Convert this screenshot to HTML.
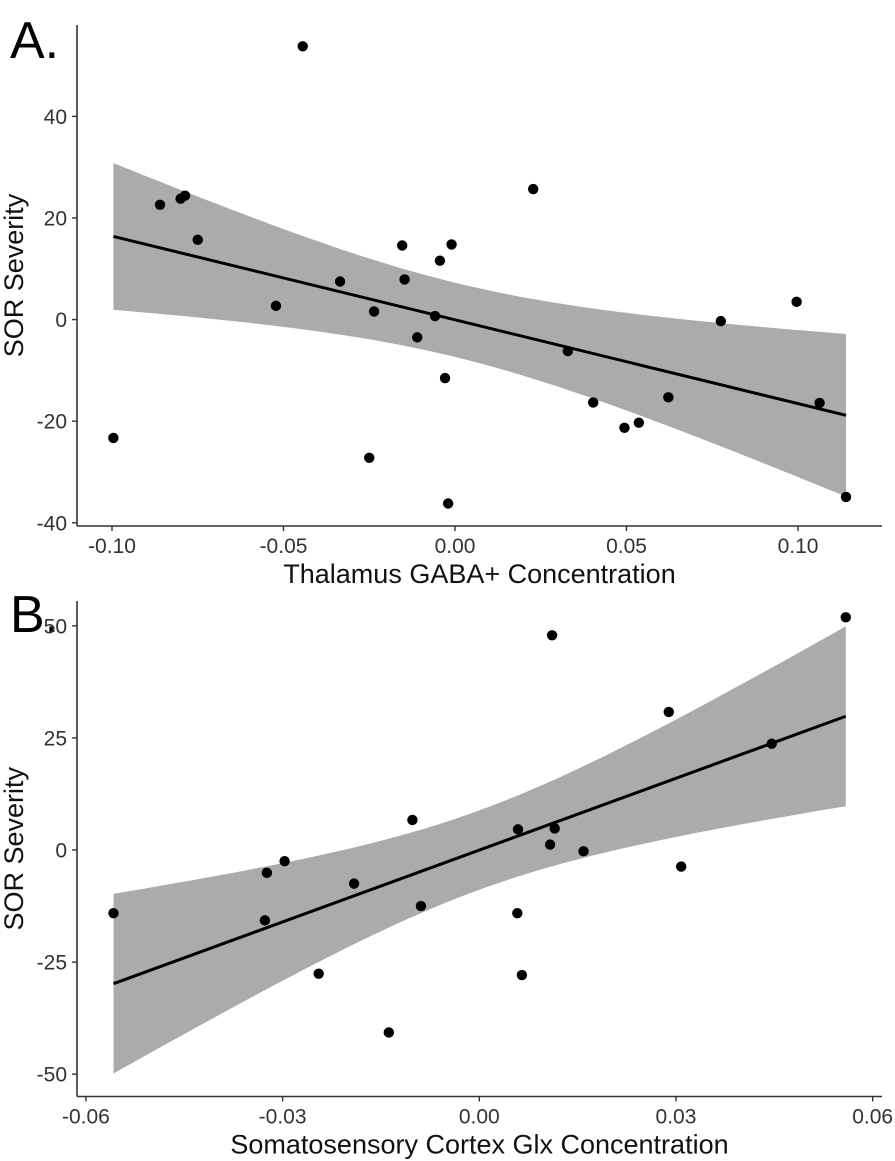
<!DOCTYPE html>
<html><head><meta charset="utf-8">
<style>
html,body{margin:0;padding:0;background:#fff;}
svg{display:block;font-family:"Liberation Sans",Arial,sans-serif;}
</style></head>
<body>
<svg id="chart" width="895" height="1161" viewBox="0 0 895 1161">
<text x="10" y="58" font-size="52" fill="#000">A.</text>
<text x="10" y="632" font-size="52" fill="#000">B.</text>
<g id="pa"></g>
<g id="pb"></g>
</svg>
<script>
// Panel A data
const aX = [-0.0444,-0.086,-0.080,-0.0787,-0.075,-0.0522,-0.0335,-0.0236,-0.0154,-0.0147,-0.011,-0.0058,-0.0044,-0.0029,-0.0996,-0.025,-0.002,-0.001,0.0228,0.0329,0.0403,0.0494,0.0536,0.0622,0.0775,0.0996,0.1063,0.114];
const aY = [53.8,22.6,23.8,24.4,15.7,2.7,7.5,1.6,14.6,7.9,-3.5,0.7,11.6,-11.5,-23.3,-27.2,-36.2,14.8,25.7,-6.2,-16.3,-21.3,-20.3,-15.3,-0.3,3.5,-16.4,-34.9];
const aXTicks = [-0.10,-0.05,0.00,0.05,0.10];
const aXTickLabels = ["-0.10","-0.05","0.00","0.05","0.10"];
const aYTicks = [-40,-20,0,20,40];
const aYTickLabels = ["-40","-20","0","20","40"];
// Panel B data
const bX = [-0.0558,-0.0324,-0.0297,-0.0327,-0.0191,-0.0102,-0.0089,-0.0245,-0.0138,0.0111,0.0559,0.0289,0.0446,0.0059,0.0115,0.0108,0.0159,0.0308,0.0058,0.0065];
const bY = [-14.1,-5.1,-2.5,-15.7,-7.5,6.7,-12.5,-27.6,-40.7,47.9,51.9,30.8,23.7,4.6,4.8,1.2,-0.3,-3.7,-14.1,-27.9];
const bXTicks = [-0.06,-0.03,0.00,0.03,0.06];
const bXTickLabels = ["-0.06","-0.03","0.00","0.03","0.06"];
const bYTicks = [-50,-25,0,25,50];
const bYTickLabels = ["-50","-25","0","25","50"];

const NS="http://www.w3.org/2000/svg";
function mk(tag,attrs,parent){const e=document.createElementNS(NS,tag);for(const k in attrs)e.setAttribute(k,attrs[k]);parent.appendChild(e);return e;}
function tcrit(df){const t={18:2.101,19:2.093,20:2.086,21:2.080,22:2.074,23:2.069,24:2.064,25:2.060,26:2.056,27:2.052,28:2.048};return t[df]||2.05;}

function panel(g, xs, ys, xTicks, xLabs, yTicks, yLabs, sx, sy, box, xTitle){
  const n=xs.length; const mx=xs.reduce((a,b)=>a+b)/n, my=ys.reduce((a,b)=>a+b)/n;
  let sxx=0,sxy=0; for(let i=0;i<n;i++){sxx+=(xs[i]-mx)**2;sxy+=(xs[i]-mx)*(ys[i]-my);}
  const b=sxy/sxx, a=my-b*mx; let sse=0; for(let i=0;i<n;i++)sse+=(ys[i]-a-b*xs[i])**2;
  const s=Math.sqrt(sse/(n-2)), t=tcrit(n-2);
  const xmin=Math.min(...xs), xmax=Math.max(...xs);
  const up=[],lo=[];
  for(let k=0;k<=80;k++){const x=xmin+(xmax-xmin)*k/80;const yh=a+b*x;const se=s*Math.sqrt(1/n+(x-mx)**2/sxx);up.push(sx(x).toFixed(1)+","+sy(yh+t*se).toFixed(1));lo.unshift(sx(x).toFixed(1)+","+sy(yh-t*se).toFixed(1));}
  const band=mk('polygon',{points:up.concat(lo).join(" "),fill:"#ababab"},g);
  
  
  const ln=mk('line',{x1:sx(xmin),y1:sy(a+b*xmin),x2:sx(xmax),y2:sy(a+b*xmax),stroke:"#000","stroke-width":3},g);
  
  
  for(let i=0;i<n;i++){const c=mk('circle',{cx:sx(xs[i]),cy:sy(ys[i]),r:5.2,fill:"#000"},g);
    
    }
  const ya=mk('line',{x1:box.l,y1:box.t,x2:box.l,y2:box.b,stroke:"#333","stroke-width":1.6},g);
  
  
  const xa=mk('line',{x1:box.l,y1:box.b,x2:box.r,y2:box.b,stroke:"#333","stroke-width":1.6},g);
  
  
  xTicks.forEach((v,i)=>{const x=sx(v);mk('line',{x1:x,y1:box.b,x2:x,y2:box.b+5,stroke:"#333","stroke-width":1.4},g);
    const tx=mk('text',{x:x,y:box.b+27,"font-size":21,fill:"#333","text-anchor":"middle"},g);tx.textContent=xLabs[i];
    
    });
  yTicks.forEach((v,i)=>{const y=sy(v);mk('line',{x1:box.l-5,y1:y,x2:box.l,y2:y,stroke:"#333","stroke-width":1.4},g);
    const tx=mk('text',{x:box.l-10,y:y+7.5,"font-size":21,fill:"#333","text-anchor":"end"},g);tx.textContent=yLabs[i];
    
    });
  const xt=mk('text',{x:(box.l+box.r)/2,y:box.b+57,"font-size":27,fill:"#111","text-anchor":"middle"},g);xt.textContent=xTitle;
  
  
  const cy=(box.t+box.b)/2;
  const yt=mk('text',{x:0,y:0,"font-size":27,fill:"#111","text-anchor":"middle",transform:"translate(23,"+cy+") rotate(-90)"},g);yt.textContent="SOR Severity";
  
  
}
panel(document.getElementById('pa'),aX,aY,aXTicks,aXTickLabels,aYTicks,aYTickLabels,
  v=>455+v*3430, v=>319.6-v*5.08, {l:77,t:25,b:526,r:882}, "Thalamus GABA+ Concentration");
panel(document.getElementById('pb'),bX,bY,bXTicks,bXTickLabels,bYTicks,bYTickLabels,
  v=>479.3+v*6556, v=>850-v*4.483, {l:77,t:601,b:1096.5,r:882}, "Somatosensory Cortex Glx Concentration");
</script>
</body></html>
